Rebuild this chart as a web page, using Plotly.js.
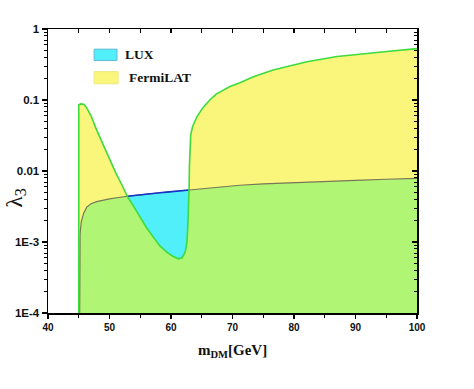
<!DOCTYPE html>
<html>
<head>
<meta charset="utf-8">
<script src="https://cdn.plot.ly/plotly-3.0.1.min.js"></script>
<style>html,body{margin:0;padding:0;background:#fff;}#chart{width:474px;height:389px;}</style>
</head>
<body>
<div id="chart"></div>
<script>
// FermiLAT limit curve (upper boundary of the allowed region)
const fermiX = [45.0, 45.3, 45.8, 46.2, 46.6, 47.0, 47.9, 49.0, 50.0, 51.0,
                52.0, 52.9, 54.0, 55.0, 56.0, 57.1, 58.2, 59.3, 60.3, 61.2,
                61.8, 62.3, 62.6, 62.75, 62.85, 62.95, 63.0, 63.05, 63.2, 63.5,
                64.2, 65.2, 66.3, 67.4, 68.5, 69.6, 71.2, 73.4, 76.6, 82.1,
                87.0, 90.2, 95.1, 100];
const fermiY = [0.085, 0.088, 0.087, 0.080, 0.070, 0.060, 0.038, 0.023, 0.0145, 0.0095,
                0.0064, 0.0044, 0.0031, 0.0022, 0.0016, 0.00118, 0.00088, 0.00072, 0.00063, 0.00058,
                0.0006, 0.00072, 0.001, 0.0018, 0.003, 0.006, 0.012, 0.022, 0.032, 0.042,
                0.058, 0.078, 0.1, 0.122, 0.138, 0.155, 0.175, 0.212, 0.265, 0.345,
                0.41, 0.44, 0.483, 0.53];
// LUX limit curve
const luxX = [45.15, 45.17, 45.22, 45.4, 45.8, 46.3, 47.0, 47.9, 49.0, 50.0,
              52.0, 53.0, 55.0, 58.2, 60.0, 62.9, 65.0, 68.0, 71.2, 75.0,
              80.0, 85.3, 90.0, 95.0, 100];
const luxY = [1e-4, 8e-4, 1.3e-3, 1.9e-3, 2.55e-3, 3.1e-3, 3.45e-3, 3.7e-3, 3.9e-3, 4.05e-3,
              4.3e-3, 4.42e-3, 4.6e-3, 4.94e-3, 5.1e-3, 5.4e-3, 5.7e-3, 6.0e-3, 6.3e-3, 6.6e-3,
              6.9e-3, 7.1e-3, 7.4e-3, 7.65e-3, 7.88e-3];
const xTickVals = [40, 50, 60, 70, 80, 90, 100];
const xTickText = ['40', '50', '60', '70', '80', '90', '100'];
const yTickVals = [1e-4, 1e-3, 0.01, 0.1, 1];
const yTickText = ['1E-4', '1E-3', '0.01', '0.1', '1'];
const legendNames = ['LUX', 'FermiLAT'];

const YMIN = 1e-4, XMAX = 100;

function interpLog(xs, ys, x) {
  const n = xs.length;
  if (x < xs[0] - 1e-9 || x > xs[n - 1] + 1e-9) return null;
  for (let i = 0; i < n - 1; i++) {
    if (x >= xs[i] - 1e-9 && x <= xs[i + 1] + 1e-9) {
      const t = (x - xs[i]) / (xs[i + 1] - xs[i]);
      const la = Math.log10(ys[i]), lb = Math.log10(ys[i + 1]);
      return Math.pow(10, la + Math.min(1, Math.max(0, t)) * (lb - la));
    }
  }
  return ys[n - 1];
}

// merged sample grid, with crossings
const grid = Array.from(new Set(fermiX.concat(luxX)))
  .filter(x => x >= luxX[0] && x <= XMAX).sort((a, b) => a - b);
const samples = [];
for (let i = 0; i < grid.length; i++) {
  const x = grid[i];
  const f = interpLog(fermiX, fermiY, x), g = interpLog(luxX, luxY, x);
  const d = Math.log10(f) - Math.log10(g);
  if (i > 0) {
    const p = samples[samples.length - 1];
    if ((p.d > 0 && d < 0) || (p.d < 0 && d > 0)) {
      const t = p.d / (p.d - d);
      const xc = p.x + t * (x - p.x);
      const fc = interpLog(fermiX, fermiY, xc), gc = interpLog(luxX, luxY, xc);
      samples.push({x: xc, f: fc, g: gc, d: 0});
    }
  }
  samples.push({x: x, f: f, g: g, d: d});
}
const greenX = [luxX[0]].concat(samples.map(s => s.x), [XMAX]);
const greenY = [YMIN].concat(samples.map(s => Math.min(s.f, s.g)), [YMIN]);
const blueX = [], blueY = [];
samples.forEach(s => {
  if (s.d <= 1e-9) { blueX.push(s.x); blueY.push(s.g); }
});

const cyan = '#50eff9', yellow = '#f9f67b', green = '#b0f574';
const traces = [
  {x: luxX.concat([XMAX]), y: luxY.concat([YMIN]), mode: 'none', fill: 'toself',
   fillcolor: cyan, showlegend: false, hoverinfo: 'skip'},
  {x: [45.0].concat(fermiX, [XMAX]), y: [YMIN].concat(fermiY, [YMIN]), mode: 'none', fill: 'toself',
   fillcolor: yellow, showlegend: false, hoverinfo: 'skip'},
  {x: greenX, y: greenY, mode: 'none', fill: 'toself',
   fillcolor: green, showlegend: false, hoverinfo: 'skip'},
  {x: luxX, y: luxY, mode: 'lines', line: {color: '#7a7658', width: 1.2},
   showlegend: false, hoverinfo: 'skip'},
  {x: blueX, y: blueY, mode: 'lines', line: {color: '#1534c8', width: 1.6},
   showlegend: false, hoverinfo: 'skip'},
  {x: [45.0].concat(fermiX), y: [YMIN].concat(fermiY), mode: 'lines',
   line: {color: '#3ddb3d', width: 1.6}, showlegend: false, hoverinfo: 'skip'},
  {x: [], y: [], xaxis: 'x2', yaxis: 'y2', mode: 'lines', showlegend: false}
];

const yMinor = [];
for (let e = -4; e < 0; e++) for (let k = 2; k <= 9; k++) yMinor.push(k * Math.pow(10, e));

const tickFontX = {family: 'Liberation Sans, Arial, sans-serif', size: 10, color: '#111', weight: 'bold'};
const tickFontY = {family: 'Liberation Sans, Arial, sans-serif', size: 11.5, color: '#111', weight: 'bold'};

const layout = {
  width: 474, height: 389,
  margin: {l: 48, r: 57, t: 29, b: 76},
  paper_bgcolor: '#fff', plot_bgcolor: '#fff',
  showlegend: false,
  xaxis: {range: [40, 100], autorange: false, showgrid: false, zeroline: false,
    showline: true, linecolor: '#000', linewidth: 1.5,
    ticks: 'outside', ticklen: 4, tickwidth: 1.2, tickcolor: '#000',
    tickmode: 'array', tickvals: xTickVals, ticktext: xTickText, tickfont: tickFontX,
    minor: {tickmode: 'linear', tick0: 45, dtick: 10, ticks: 'outside', ticklen: 3, tickwidth: 1.2, tickcolor: '#000', showgrid: false}},
  yaxis: {type: 'log', range: [-4, 0], autorange: false, showgrid: false, zeroline: false,
    showline: true, linecolor: '#000', linewidth: 1.5,
    ticks: 'outside', ticklen: 5, tickwidth: 1.2, tickcolor: '#000',
    tickmode: 'array', tickvals: yTickVals, ticktext: yTickText, tickfont: tickFontY,
    minor: {tickmode: 'array', tickvals: yMinor, ticks: 'outside', ticklen: 3, tickwidth: 1, tickcolor: '#000', showgrid: false}},
  xaxis2: {overlaying: 'x', anchor: 'y2', side: 'top', range: [40, 100], autorange: false,
    showgrid: false, zeroline: false, showline: true, linecolor: '#000', linewidth: 1.5,
    ticks: 'inside', ticklen: 4, tickwidth: 1.2, tickcolor: '#000', showticklabels: false,
    tickmode: 'linear', tick0: 40, dtick: 10,
    minor: {tickmode: 'linear', tick0: 45, dtick: 10, ticks: 'inside', ticklen: 4, tickwidth: 1.2, tickcolor: '#000', showgrid: false}},
  yaxis2: {overlaying: 'y', anchor: 'x2', side: 'right', type: 'log', range: [-4, 0], autorange: false,
    showgrid: false, zeroline: false, showline: true, linecolor: '#000', linewidth: 1.5,
    ticks: 'inside', ticklen: 5, tickwidth: 1.2, tickcolor: '#000', showticklabels: false,
    tickmode: 'array', tickvals: yTickVals,
    minor: {tickmode: 'array', tickvals: yMinor, ticks: 'inside', ticklen: 3, tickwidth: 1, tickcolor: '#000', showgrid: false}},
  shapes: [
    {type: 'rect', xref: 'paper', yref: 'paper', x0: 0.125, x1: 0.187, y0: 0.889, y1: 0.929,
     fillcolor: cyan, line: {color: '#5fb9d6', width: 1}},
    {type: 'rect', xref: 'paper', yref: 'paper', x0: 0.125, x1: 0.19, y0: 0.807, y1: 0.850,
     fillcolor: yellow, line: {color: '#eeea80', width: 1}}
  ],
  annotations: [
    {xref: 'paper', yref: 'paper', x: 0.203, y: 0.909, xanchor: 'left', yanchor: 'middle', showarrow: false,
     text: legendNames[0], font: {family: 'Liberation Serif, Times New Roman, serif', size: 13.5, color: '#111', weight: 'bold'}},
    {xref: 'paper', yref: 'paper', x: 0.213, y: 0.828, xanchor: 'left', yanchor: 'middle', showarrow: false,
     text: legendNames[1], font: {family: 'Liberation Serif, Times New Roman, serif', size: 13.5, color: '#111', weight: 'bold'}},
    {xref: 'paper', yref: 'paper', x: 0.5, y: -0.135, xanchor: 'center', yanchor: 'middle', showarrow: false,
     text: 'm<sub>DM</sub>[GeV]', font: {family: 'Liberation Serif, Times New Roman, serif', size: 15, color: '#111', weight: 'bold'}},
    {xref: 'paper', yref: 'paper', x: -0.088, y: 0.405, xanchor: 'center', yanchor: 'middle', showarrow: false, textangle: -90,
     text: 'λ<sub>3</sub>', font: {family: 'Liberation Serif, Times New Roman, serif', size: 23, color: '#111'}}
  ]
};

Plotly.newPlot('chart', traces, layout, {staticPlot: true, displayModeBar: false});
</script>
</body>
</html>
